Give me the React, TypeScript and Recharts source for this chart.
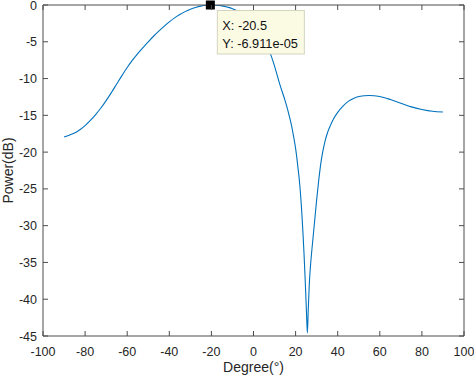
import React from 'react';
import { LineChart, Line, XAxis, YAxis, ReferenceDot } from 'recharts';

const degrees = [
  -90, -87.5, -85, -82.5, -80, -77.5, -75, -72.5, -70, -67.5, -65, -62.5, -60, -57.5, -55, -52.5, -50, -47.5, -45, -42.5, -40, -37.5, -35, -32.5, -30, -27.5, -25, -22.5, -20.5,
  -17.5, -15, -12.5, -10, -7.5, -5, -2.5, 0, 2.5, 5, 7.5, 10, 12.5, 15, 16, 17, 18, 19, 20, 21, 22, 23, 23.5, 24, 24.5, 25, 25.3, 25.6,
  26, 26.5, 27.2, 28, 29, 30, 31, 32, 33, 34, 35, 36.5, 38, 40, 42.5, 45, 47.5, 50, 55, 60, 65, 70, 75, 80, 85, 90,
];
const power = [
  -17.95, -17.7, -17.4, -16.95, -16.4, -15.7, -14.9, -14.0, -13.0, -11.9, -10.75, -9.6, -8.5, -7.5, -6.6, -5.8, -5.0, -4.25, -3.55, -2.9, -2.3, -1.75, -1.3, -0.9, -0.58, -0.33, -0.15, -0.04, 0,
  -0.04, -0.12, -0.28, -0.5, -0.85, -1.3, -1.9, -2.6, -3.5, -4.6, -6.2, -8.3, -10.8, -13.0, -14.0, -15.1, -16.3, -17.8, -19.5, -21.8, -24.5, -28.5, -31, -33.8, -37, -40.5, -42.8, -44.6,
  -41.5, -38, -35, -32.5, -29.5, -26.5, -23.8, -21.5, -19.8, -18.5, -17.5, -16.4, -15.5, -14.6, -13.75, -13.1, -12.7, -12.45, -12.3, -12.45, -12.85, -13.35, -13.85, -14.2, -14.45, -14.55,
];
const xTicks = [-100, -80, -60, -40, -20, 0, 20, 40, 60, 80, 100];
const yTicks = [-45, -40, -35, -30, -25, -20, -15, -10, -5, 0];
const tipX = -20.5;
const tipY = 0;
const tipLabels = ['X: -20.5', 'Y: -6.911e-05'];

const data = degrees.map((d, i) => ({ deg: d, pow: power[i] }));

const AXIS = '#4d4d4d';
const TEXT = '#262626';
const FONT = 'Liberation Sans, Arial, sans-serif';

const BottomTick = (props: any) => {
  const { x, y, payload } = props;
  return (
    <g>
      <line x1={x} y1={y} x2={x} y2={y - 5} stroke={AXIS} strokeWidth={1} />
      <text x={x} y={y + 15} dy="0.36em" textAnchor="middle" fontSize={12.5} fill={TEXT} fontFamily={FONT}>
        {payload.value}
      </text>
    </g>
  );
};

const LeftTick = (props: any) => {
  const { x, y, payload } = props;
  return (
    <g>
      <line x1={x} y1={y} x2={x + 5} y2={y} stroke={AXIS} strokeWidth={1} />
      <text x={x - 6} y={y} dy="0.36em" textAnchor="end" fontSize={12.5} fill={TEXT} fontFamily={FONT}>
        {payload.value}
      </text>
    </g>
  );
};

const TopTick = (props: any) => {
  const { x, y } = props;
  return <line x1={x} y1={y} x2={x} y2={y + 5} stroke={AXIS} strokeWidth={1} />;
};

const RightTick = (props: any) => {
  const { x, y } = props;
  return <line x1={x} y1={y} x2={x - 5} y2={y} stroke={AXIS} strokeWidth={1} />;
};

const DataTip = (props: any) => {
  const { cx, cy } = props;
  return (
    <g>
      <rect x={cx + 7} y={cy + 5.5} width={87} height={43.5} fill="#fbfbe4" stroke="#d4d4c0" strokeWidth={1} />
      <rect x={cx - 4.5} y={cy - 4.5} width={9} height={9} fill="#000" />
      <text x={cx + 12} y={cy + 20} dy="0.36em" fontSize={12.75} fill="#111" fontFamily={FONT}>
        {tipLabels[0]}
      </text>
      <text x={cx + 12} y={cy + 38.5} dy="0.36em" fontSize={12.75} fill="#111" fontFamily={FONT}>
        {tipLabels[1]}
      </text>
    </g>
  );
};

export default function App() {
  return (
    <div style={{ position: 'absolute', left: 0, top: 0, background: '#fff' }}>
      <LineChart width={474} height={377} data={data} margin={{ top: 4, right: 9, left: 0, bottom: 0 }}>
        <XAxis
          dataKey="deg"
          type="number"
          domain={[-100, 100]}
          ticks={xTicks}
          height={41}
          tickSize={0}
          tickMargin={0}
          tick={<BottomTick />}
          axisLine={{ stroke: AXIS }}
          interval={0}
          allowDataOverflow
          label={{ value: 'Degree(°)', position: 'insideBottom', offset: 5, fontSize: 14, fill: TEXT, fontFamily: FONT }}
        />
        <XAxis
          xAxisId="top"
          orientation="top"
          type="number"
          dataKey="deg"
          domain={[-100, 100]}
          ticks={xTicks}
          height={1}
          tickSize={0}
          tickMargin={0}
          tick={<TopTick />}
          axisLine={{ stroke: AXIS }}
          interval={0}
          allowDataOverflow
        />
        <YAxis
          type="number"
          domain={[-45, 0]}
          ticks={yTicks}
          width={43}
          tickSize={0}
          tickMargin={0}
          tick={<LeftTick />}
          axisLine={{ stroke: AXIS }}
          interval={0}
          allowDataOverflow
          label={{ value: 'Power(dB)', angle: -90, position: 'insideLeft', offset: 8, fontSize: 14, fill: TEXT, fontFamily: FONT, style: { textAnchor: 'middle' } }}
        />
        <YAxis
          yAxisId="right"
          orientation="right"
          type="number"
          domain={[-45, 0]}
          ticks={yTicks}
          width={1}
          tickSize={0}
          tickMargin={0}
          tick={<RightTick />}
          axisLine={{ stroke: AXIS }}
          interval={0}
          allowDataOverflow
        />
        <Line
          type="monotone"
          dataKey="pow"
          stroke="#0072BD"
          strokeWidth={1.1}
          dot={false}
          isAnimationActive={false}
        />
        <ReferenceDot x={tipX} y={tipY} r={4} ifOverflow="visible" shape={<DataTip />} />
      </LineChart>
    </div>
  );
}
